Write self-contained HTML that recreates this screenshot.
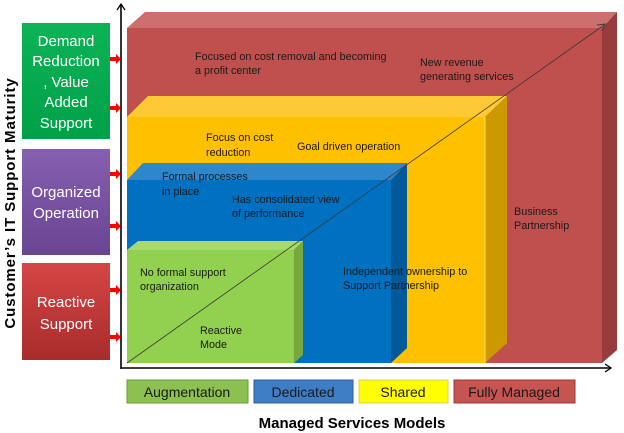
<!DOCTYPE html>
<html><head><meta charset="utf-8"><style>
html,body{margin:0;padding:0;background:#fff;width:624px;height:433px;overflow:hidden}
svg text{font-family:"Liberation Sans",sans-serif}
</style></head><body>
<svg width="624" height="433" viewBox="0 0 624 433" xmlns="http://www.w3.org/2000/svg">
<defs>
<linearGradient id="gg" x1="0" y1="0" x2="0" y2="1"><stop offset="0" stop-color="#0cb356"/><stop offset="1" stop-color="#00a048"/></linearGradient>
<linearGradient id="pg" x1="0" y1="0" x2="0" y2="1"><stop offset="0" stop-color="#8660b0"/><stop offset="1" stop-color="#6a4592"/></linearGradient>
<linearGradient id="rg" x1="0" y1="0" x2="0" y2="1"><stop offset="0" stop-color="#d64545"/><stop offset="1" stop-color="#a82c2c"/></linearGradient>
</defs>
<polygon points="127,28 145,12 617,12 602,28" fill="#cd6f6f"/>
<polygon points="602,28 617,12 617,350 602,363" fill="#963c3c"/>
<rect x="127" y="28" width="475" height="335" fill="#c0504d"/>
<polygon points="127,117 148,96 507,96 485,117" fill="#fdc934"/>
<polygon points="485,117 507,96 507,343 485,363" fill="#cc9a00"/>
<rect x="127" y="117" width="358" height="246" fill="#ffc000"/>
<line x1="485" y1="117" x2="485" y2="363" stroke="#f0e060" stroke-width="1"/>
<polygon points="127,180 143,163 407,163 391,180" fill="#2e86cc"/>
<polygon points="391,180 407,163 407,348 391,363" fill="#005a9a"/>
<rect x="127" y="180" width="264" height="183" fill="#0070c0"/>
<polygon points="127,250 138,241 303,241 294,250" fill="#a8d870"/>
<polygon points="294,250 303,241 303,355 294,363" fill="#76a83c"/>
<rect x="127" y="250" width="167" height="113" fill="#92d050"/>
<line x1="127" y1="363" x2="604" y2="25" stroke="#3a3a3a" stroke-width="0.8"/>
<polyline points="597,25 605,24 602,31" fill="none" stroke="#3a3a3a" stroke-width="0.9"/>
<line x1="121" y1="5" x2="121" y2="369" stroke="#000" stroke-width="1.6"/>
<polyline points="117,10 121,4 125,10" fill="none" stroke="#000" stroke-width="1.3"/>
<line x1="121" y1="368" x2="611" y2="368" stroke="#000" stroke-width="1.6"/>
<polyline points="605,364 611,368 605,372" fill="none" stroke="#000" stroke-width="1.3"/>
<rect x="22" y="23" width="88" height="116" fill="url(#gg)"/>
<rect x="22" y="149" width="88" height="106" fill="url(#pg)"/>
<rect x="22" y="263" width="88" height="97" fill="url(#rg)"/>
<g fill="#fff" font-size="15" text-anchor="middle">
<text x="66" y="46">Demand</text><text x="66" y="66">Reduction</text><text x="66" y="87">, Value</text><text x="66" y="107">Added</text><text x="66" y="128">Support</text>
<text x="66" y="197">Organized</text><text x="66" y="218">Operation</text>
<text x="66" y="307">Reactive</text><text x="66" y="329">Support</text>
</g>
<g fill="#ff0000">
<path d="M110,57h6v-3l5,5l-5,5v-3h-6z"/>
<path d="M110,106h6v-3l5,5l-5,5v-3h-6z"/>
<path d="M110,172h6v-3l5,5l-5,5v-3h-6z"/>
<path d="M110,224h6v-3l5,5l-5,5v-3h-6z"/>
<path d="M110,288h6v-3l5,5l-5,5v-3h-6z"/>
<path d="M110,335h6v-3l5,5l-5,5v-3h-6z"/>
</g>
<text transform="translate(15,203) rotate(-90)" font-size="15" font-weight="bold" text-anchor="middle" letter-spacing="0.9">Customer’s  IT Support Maturity</text>
<g font-size="10.8" fill="#1a1a1a">
<text x="195" y="60">Focused on cost removal and becoming</text><text x="195" y="74">a profit center</text>
<text x="420" y="66">New revenue</text><text x="420" y="80">generating services</text>
<text x="206" y="141">Focus on cost</text><text x="206" y="156">reduction</text>
<text x="297" y="150">Goal driven operation</text>
<text x="162" y="180">Formal processes</text><text x="162" y="195">in place</text>
<text x="232" y="203">Has consolidated view</text><text x="232" y="217">of performance</text>
<text x="514" y="215">Business</text><text x="514" y="229">Partnership</text>
<text x="140" y="276">No formal support</text><text x="140" y="290">organization</text>
<text x="343" y="275">Independent ownership to</text><text x="343" y="289">Support Partnership</text>
<text x="200" y="334">Reactive</text><text x="200" y="348">Mode</text>
</g>
<rect x="127" y="380" width="121" height="23" fill="#8cc152" stroke="#6a9a3a"/>
<rect x="254" y="380" width="99" height="23" fill="#3e7cc4" stroke="#2c5e9a"/>
<rect x="359" y="380" width="89" height="23" fill="#ffff00" stroke="#d8d060"/>
<rect x="454" y="380" width="121" height="23" fill="#c65451" stroke="#9a3a38"/>
<g font-size="14" fill="#1a1a1a" text-anchor="middle">
<text x="187" y="397">Augmentation</text><text x="303" y="397">Dedicated</text><text x="403" y="397">Shared</text><text x="514" y="397">Fully Managed</text>
</g>
<text x="352" y="428" font-size="15" font-weight="bold" text-anchor="middle">Managed Services Models</text>
</svg>
</body></html>
